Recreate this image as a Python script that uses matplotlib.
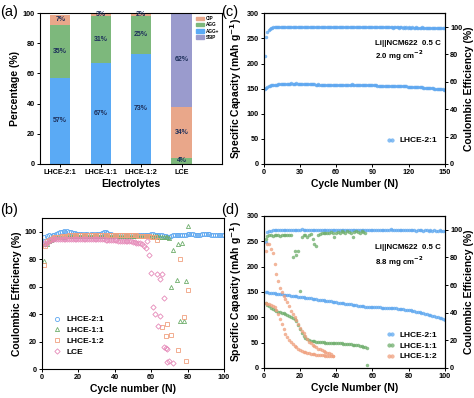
import matplotlib
matplotlib.use("Agg")
import matplotlib.pyplot as plt

plt.rcParams['font.family'] = ['Liberation Sans', 'DejaVu Sans']
plt.rcParams['font.weight'] = 'bold'
plt.rcParams['axes.labelweight'] = 'bold'
plt.rcParams['axes.linewidth'] = 0.8

# ---------------- Panel (a) data ----------------
electrolytes = ["LHCE-2:1", "LHCE-1:1", "LHCE-1:2", "LCE"]
species = ["CIP", "AGG", "AGG+", "SSIP"]
aggp_pct = [57, 67, 73, 0]
agg_pct = [35, 31, 25, 4]
cip_pct = [7, 3, 2, 34]
ssip_pct = [0, 0, 0, 62]

# ---------------- Panel (c) data ----------------
cycles_c = list(range(1, 151))
cap_c = [150, 152, 154, 155, 156, 156.5, 157, 157, 157.5, 158,
         158, 158.5, 158.5, 159, 159, 159, 159.5, 159.5, 160, 160,
         160, 160, 160.5, 160, 160, 160, 160.5, 160, 160, 160,
         160, 159.5, 160, 159.5, 159.5, 159, 159.5, 159, 159, 159,
         158.5, 158.5, 158, 158, 158.5, 158, 158, 157.5, 158, 157.5,
         157.5, 157, 157, 157, 157, 157, 157, 157, 157, 157,
         157, 157, 157.5, 157.5, 157.5, 158, 158, 158, 158, 158,
         158, 158, 158.5, 158, 158, 158, 158, 158, 157.5, 157.5,
         157.5, 157.5, 157, 157, 157, 157, 157, 157, 157, 156.5,
         156.5, 156.5, 156.5, 156, 156, 156, 156, 156, 156, 155.5,
         155.5, 155.5, 155.5, 155.5, 155, 155, 155, 155, 155, 155,
         155, 155, 154.5, 154.5, 154.5, 154.5, 154.5, 154.5, 154, 154,
         154, 154, 154, 153.5, 153.5, 153.5, 153, 153, 153, 152.5,
         152.5, 152, 152, 152, 151.5, 151.5, 151, 151, 150.5, 150.5,
         150, 150, 149.5, 149.5, 149, 149, 148.5, 148.5, 148, 148]
ce_c = [79, 93, 96, 97.5, 98.5, 99.2, 99.5, 99.8, 100, 99.9,
        100.1, 100, 99.8, 99.9, 100, 100.2, 100, 99.9, 99.8, 100,
        99.9, 100.1, 100, 99.8, 99.9, 100, 100.1, 99.9, 99.8, 100,
        100, 99.9, 100.1, 100, 99.8, 99.9, 100, 100, 99.9, 99.8,
        100, 99.9, 100.1, 100, 99.8, 99.9, 100, 100.1, 99.9, 99.8,
        100, 99.9, 100, 100.1, 99.8, 99.9, 100, 100, 99.9, 99.8,
        100, 99.9, 100.1, 100, 99.8, 99.9, 100, 100.1, 99.9, 99.8,
        100, 99.9, 100, 100.2, 99.8, 99.9, 100, 100, 99.9, 99.8,
        100, 99.9, 100.1, 100, 99.8, 99.9, 100, 100.1, 99.9, 99.8,
        100, 99.9, 100, 100.1, 99.8, 99.9, 100, 100, 99.9, 99.8,
        99.9, 99.8, 100, 99.7, 99.8, 99.9, 99.6, 100, 99.8, 99.7,
        99.9, 99.6, 99.8, 99.7, 99.5, 99.8, 99.6, 99.9, 99.4, 99.7,
        99.6, 99.5, 99.8, 99.4, 99.6, 99.7, 99.3, 99.6, 99.5, 99.4,
        99.7, 99.3, 99.5, 99.6, 99.2, 99.5, 99.4, 99.6, 99.3, 99.5,
        99.4, 99.3, 99.6, 99.2, 99.5, 99.4, 99.3, 99.5, 99.2, 99.4]

# ---------------- Panel (b) data ----------------
cyc_b_21 = list(range(1, 101))
ce_b_21 = [96, 93, 97, 97.5, 97, 97.5, 98, 98.5, 99, 99.5,
           100, 100.5, 100, 100.5, 100, 99.5, 99, 99, 98.5, 98.5,
           98.5, 98.5, 98, 98.5, 98.5, 98, 98.5, 98.5, 98, 98.5,
           98.5, 98.5, 99, 99.5, 99.5, 99, 98.5, 98.5, 98, 98,
           98, 98, 98, 97.5, 98, 98, 97.5, 97.5, 98, 98,
           98, 98, 98, 97.5, 97.5, 97.5, 98, 98, 98, 98.5,
           98.5, 98, 98, 98, 97.5, 97.5, 97, 97, 96.5, 96.5,
           97, 97.5, 97.5, 97.5, 97.5, 98, 98, 98, 98, 98.5,
           98.5, 98.5, 98.5, 98, 98, 98, 98, 98.5, 98.5, 98.5,
           98.5, 98.5, 98, 98, 98, 97.5, 98, 98, 98, 98]
cyc_b_11 = list(range(1, 71)) + [71, 72, 74, 75, 76, 77, 78, 79, 80]
ce_b_11 = [79, 91, 91, 93, 94, 95, 95.5, 96, 96, 96.5,
           96.5, 96.5, 97, 97, 97, 97, 97, 97, 97, 97,
           97, 97, 97, 97, 97, 97, 97, 97, 97, 97,
           97, 97, 97, 97, 97, 97, 97, 97, 97, 97,
           97, 97, 97, 97, 97, 97, 97, 97, 97, 97,
           97, 97, 97, 97, 97, 97, 97, 97, 97, 97,
           97, 97, 97, 96.5, 96.5, 96.5, 96, 96, 96, 95.5,
           60, 87, 65, 91, 35, 92, 35, 64, 104]
cyc_b_12 = list(range(1, 64)) + [66, 68, 69, 71, 75, 76, 78, 79, 80]
ce_b_12 = [76, 90, 93, 94, 95, 95.5, 96, 96, 96.5, 96.5,
           97, 97, 97, 97, 97.5, 97.5, 97.5, 97.5, 97.5, 97.5,
           97.5, 97.5, 97.5, 97.5, 97.5, 97.5, 97.5, 97.5, 97.5, 97.5,
           97.5, 97.5, 97.5, 97.5, 97.5, 97.5, 97.5, 97.5, 97.5, 97.5,
           97.5, 97.5, 97.5, 97.5, 97.5, 97.5, 97.5, 97.5, 97.5, 97.5,
           97.5, 97.5, 97, 97, 97, 97, 97, 97, 97, 96.5,
           96.5, 96, 94,
           31, 24, 33, 25, 14, 80, 38, 6, 58]
cyc_b_lce = list(range(1, 58)) + [58, 59, 60, 61, 62, 63, 64, 65, 65, 66, 67, 67, 68, 69, 69, 70, 72]
ce_b_lce = [92, 91, 92, 93, 94, 94.5, 95, 95, 95, 95,
            95, 95, 95, 95, 95, 95, 95, 95, 95, 95,
            95, 95, 95, 95, 95, 95, 95, 94.5, 94.5, 94.5,
            94.5, 94.5, 94.5, 94.5, 94, 94, 94, 94, 94, 94,
            94, 93.5, 93.5, 93.5, 93.5, 93, 93, 93, 93, 92.5,
            92.5, 92, 92, 91.5, 91, 90, 88.5,
            93, 83, 70, 45, 40, 69, 31.5, 38.5, 65.5, 69, 52, 16.5, 15.5, 14.5, 5.5, 6, 4.5]

# ---------------- Panel (d) data ----------------
cyc_d_21 = list(range(1, 101))
cap_d_21 = [150, 149.5, 149, 148.5, 148, 147.5, 147, 146.5, 146, 145.5,
            145, 144.5, 144, 143.5, 143, 142.5, 142, 141.5, 141, 140.5,
            140, 139.5, 139, 138.5, 138, 137.5, 137, 136, 135.5, 135,
            134.5, 134, 133.5, 133, 132.5, 132, 131.5, 131, 130.5, 130,
            129, 128.5, 128, 127.5, 127, 126.5, 126, 125.5, 125, 124.5,
            124, 123, 122.5, 122, 121.5, 121, 121, 120.5, 120.5, 120,
            120, 120, 119.5, 119.5, 119, 119, 119, 118.5, 118.5, 118,
            118, 117.5, 117.5, 117, 116.5, 116, 115.5, 115, 114.5, 114,
            113.5, 113, 112, 111.5, 111, 110, 109, 108.5, 107.5, 106.5,
            105.5, 104.5, 103.5, 102.5, 101.5, 100.5, 99.5, 98, 97, 95.5]
ce_d_21 = [91, 98.5, 99.3, 99.5, 99.7, 99.8, 99.6, 99.9, 100, 99.8,
           99.9, 100, 99.7, 99.9, 100.1, 99.8, 99.9, 100, 99.8, 100,
           100.8, 99.9, 100, 99.8, 99.9, 100.1, 99.7, 99.9, 100, 99.8,
           99.9, 100, 99.8, 100.1, 99.9, 99.7, 100, 99.9, 99.8, 100,
           99.9, 100.1, 99.8, 99.9, 100, 99.7, 99.9, 100, 99.8, 100.1,
           99.9, 99.8, 100, 99.9, 100.1, 99.7, 99.9, 100, 99.8, 99.9,
           100, 99.8, 100.1, 99.9, 99.7, 100, 99.9, 99.8, 100, 100.5,
           99.9, 99.8, 100, 99.9, 100.1, 99.7, 99.9, 100, 99.8, 99.9,
           99.6, 99.8, 99.7, 99.5, 99.8, 99.6, 99.9, 99.5, 99.7, 99.6,
           99.4, 99.7, 99.5, 99.6, 99.3, 99.5, 99.6, 99.4, 99.2, 99.5]
cyc_d_11 = list(range(1, 58))
cap_d_11 = [128, 125, 122, 119, 117, 115, 113, 111, 110, 109,
            108, 106, 105, 103, 101, 99, 96, 92, 85, 77,
            70, 64, 60, 57, 55, 54, 53, 53, 52, 52,
            51, 51, 51, 50, 50, 50, 50, 49.5, 49.5, 49,
            49, 49, 48.5, 48, 48, 47.5, 47, 46.5, 46, 46,
            45, 44.5, 44, 43, 42, 41, 40]
ce_d_11 = [93, 95.5, 96, 96, 95.5, 96, 96.5, 96, 95.5, 96,
           96.5, 96, 96, 96.5, 96, 80, 85, 82, 85, 56,
           95, 96, 96, 95, 96, 97, 93, 90, 88, 96,
           97, 97.5, 98, 98, 97.5, 98, 98.5, 98, 95, 98,
           98.5, 98, 99, 98.5, 98, 99, 98.5, 98, 95, 98.5,
           99, 98.5, 98, 99, 98.5, 98, 2]
cyc_d_12 = list(range(1, 39))
cap_d_12 = [128, 127, 126, 125, 123, 120, 115, 106, 96, 86,
            76, 68, 61, 55, 51, 47, 44, 41, 38, 36,
            34, 32.5, 31, 30, 29, 28, 27.5, 27, 26.5, 26,
            25.5, 25, 25, 24.5, 24.5, 24, 24, 24]
ce_d_12 = [85, 90, 90, 86, 83, 75, 68, 63, 58, 55,
           52, 50, 48, 45, 41, 39, 37, 35, 32, 29,
           27, 25, 23, 21, 19, 18, 17, 16, 15, 14,
           13.5, 13, 12, 11.5, 11, 10.5, 10, 9]

# ---------------- Styles ----------------
C_CIP = '#E9A78A'
C_AGG = '#7DB87C'
C_AGGP = '#5AAAF5'
C_SSIP = '#9A9BCD'
C_BLUE = '#5FA8F0'
C_GREEN = '#6FAE6C'
C_ORANGE = '#F0A07E'
C_PINK = '#E589B8'
TXT = '#1d2f5a'
LAB = 7.5
TCK = 5.2
LEG = 6.0
ANN = 5.7

fig = plt.figure(figsize=(4.74, 3.98), dpi=100)
W, H = 474.0, 398.0

def ax_rect(l, t, r, b):
    return [l / W, 1 - b / H, (r - l) / W, (b - t) / H]

tick_kw = dict(labelsize=TCK, width=0.7, length=2.5, direction='out', pad=1.2)

# ---------------- (a) ----------------
axa = fig.add_axes(ax_rect(40, 13, 222, 164))
xpos = list(range(len(electrolytes)))
bw = 0.5
for i in xpos:
    if i < 3:
        segs = [(aggp_pct[i], C_AGGP), (agg_pct[i], C_AGG), (cip_pct[i], C_CIP)]
    else:
        segs = [(agg_pct[i], C_AGG), (cip_pct[i], C_CIP), (ssip_pct[i], C_SSIP)]
    bottom = 0
    for val, col in segs:
        top = min(bottom + val, 100)
        axa.bar(i, top - bottom, bottom=bottom, width=bw, color=col, linewidth=0)
        ypos = bottom + (top - bottom) / 2 if val > 3 else bottom + 1.2
        if i == 3 and val == 4:
            ypos = 2
        axa.text(i, ypos, f"{val}%", ha='center', va='center', fontsize=5,
                 color=TXT, fontweight='bold')
        bottom = top
axa.set_xlim(-0.5, 4.0)
axa.set_ylim(0, 100)
axa.set_xticks(xpos)
axa.set_xticklabels(electrolytes, fontsize=TCK)
axa.set_yticks([0, 20, 40, 60, 80, 100])
axa.tick_params(**tick_kw)
axa.set_ylabel("Percentage (%)", fontsize=LAB, labelpad=2)
axa.set_xlabel("Electrolytes", fontsize=LAB, labelpad=2)
handles_a = [plt.Rectangle((0, 0), 1, 1, color=c) for c in [C_CIP, C_AGG, C_AGGP, C_SSIP]]
axa.legend(handles_a, species, loc='upper right', fontsize=3.3, frameon=False,
           handlelength=1.6, handleheight=0.7, borderaxespad=0.3, labelspacing=0.25,
           handletextpad=0.4)

# ---------------- (c) ----------------
axc = fig.add_axes(ax_rect(263.7, 13.3, 445, 164))
axc.plot(cycles_c, cap_c, 'o', ms=2.2, color=C_BLUE, alpha=0.75, mew=0.3, label='LHCE-2:1')
axc2 = axc.twinx()
axc2.plot(cycles_c, ce_c, 'o', ms=2.2, color=C_BLUE, alpha=0.75, mew=0.3)
axc.set_xlim(0, 150)
axc.set_ylim(0, 300)
axc2.set_ylim(0, 110)
axc.set_xticks([0, 30, 60, 90, 120, 150])
axc.set_yticks([0, 50, 100, 150, 200, 250, 300])
axc2.set_yticks([0, 20, 40, 60, 80, 100])
axc.tick_params(**tick_kw)
axc2.tick_params(**tick_kw)
axc.set_xlabel("Cycle Number (N)", fontsize=LAB, labelpad=2)
axc.set_ylabel("Specific Capacity (mAh g$^{\\mathbf{-1}}$)", fontsize=LAB, labelpad=1.5)
axc2.set_ylabel("Coulombic Efficiency (%)", fontsize=LAB, labelpad=1.5)
axc.text(0.615, 0.8, "Li||NCM622  0.5 C", transform=axc.transAxes, fontsize=ANN, ha='left', va='center')
axc.text(0.615, 0.72, "2.0 mg cm$^{\\mathbf{-2}}$", transform=axc.transAxes, fontsize=ANN, ha='left', va='center')
axc.legend(loc='lower right', bbox_to_anchor=(1.0, 0.08), fontsize=LEG, frameon=False, numpoints=2,
           handlelength=1.0, handletextpad=0.6, markerscale=1.2)

# ---------------- (b) ----------------
axb = fig.add_axes(ax_rect(41.7, 218, 224, 369.3))
mk = dict(ls='none', ms=3.0, mew=0.6, mfc='none')
axb.plot(cyc_b_21, ce_b_21, marker='o', color=C_BLUE, label='LHCE-2:1', **mk)
axb.plot(cyc_b_11, ce_b_11, marker='^', color=C_GREEN, label='LHCE-1:1', **mk)
axb.plot(cyc_b_12, ce_b_12, marker='s', color=C_ORANGE, label='LHCE-1:2', **mk)
axb.plot(cyc_b_lce, ce_b_lce, marker='D', color=C_PINK, label='LCE', ms=2.7, mew=0.6, mfc='none', ls='none')
axb.set_xlim(0, 100)
axb.set_ylim(0, 110)
axb.set_xticks([0, 20, 40, 60, 80, 100])
axb.set_yticks([0, 20, 40, 60, 80, 100])
axb.tick_params(**tick_kw)
axb.set_xlabel("Cycle number (N)", fontsize=LAB, labelpad=2)
axb.set_ylabel("Coulombic Efficiency (%)", fontsize=LAB, labelpad=2)
axb.legend(loc='lower left', bbox_to_anchor=(0.02, 0.04), fontsize=LEG, frameon=False, numpoints=1,
           handlelength=1.0, handletextpad=0.6, labelspacing=0.35)

# ---------------- (d) ----------------
axd = fig.add_axes(ax_rect(263.7, 216, 445, 368))
sk = dict(ls='none', marker='o', ms=2.2, mew=0.3, alpha=0.75)
axd.plot(cyc_d_21, cap_d_21, color=C_BLUE, label='LHCE-2:1', **sk)
axd.plot(cyc_d_11, cap_d_11, color=C_GREEN, label='LHCE-1:1', **sk)
axd.plot(cyc_d_12, cap_d_12, color=C_ORANGE, label='LHCE-1:2', **sk)
axd2 = axd.twinx()
axd2.plot(cyc_d_21, ce_d_21, color=C_BLUE, **sk)
axd2.plot(cyc_d_11, ce_d_11, color=C_GREEN, **sk)
axd2.plot(cyc_d_12, ce_d_12, color=C_ORANGE, **sk)
axd.set_xlim(0, 100)
axd.set_ylim(0, 300)
axd2.set_ylim(0, 110)
axd.set_xticks([0, 20, 40, 60, 80, 100])
axd.set_yticks([0, 50, 100, 150, 200, 250, 300])
axd2.set_yticks([0, 20, 40, 60, 80, 100])
axd.tick_params(**tick_kw)
axd2.tick_params(**tick_kw)
axd.set_xlabel("Cycle Number (N)", fontsize=LAB, labelpad=2)
axd.set_ylabel("Specific Capacity (mAh g$^{\\mathbf{-1}}$)", fontsize=LAB, labelpad=1.5)
axd2.set_ylabel("Coulombic Efficiency (%)", fontsize=LAB, labelpad=1.5)
axd.text(0.615, 0.79, "Li||NCM622  0.5 C", transform=axd.transAxes, fontsize=ANN, ha='left', va='center')
axd.text(0.615, 0.70, "8.8 mg cm$^{\\mathbf{-2}}$", transform=axd.transAxes, fontsize=ANN, ha='left', va='center')
axd.legend(loc='lower right', bbox_to_anchor=(1.0, 0.0), fontsize=LEG, frameon=False, numpoints=2,
           handlelength=1.0, handletextpad=0.6, labelspacing=0.35, markerscale=1.2)

# panel letters
for lab, x, y in [("(a)", 0, 12), ("(c)", 221, 12), ("(b)", 0, 210), ("(d)", 221, 210)]:
    fig.text(x / W, 1 - y / H, lab, fontsize=10.5, fontweight='normal', ha='left', va='center')

fig.savefig("out.png", dpi=100)
